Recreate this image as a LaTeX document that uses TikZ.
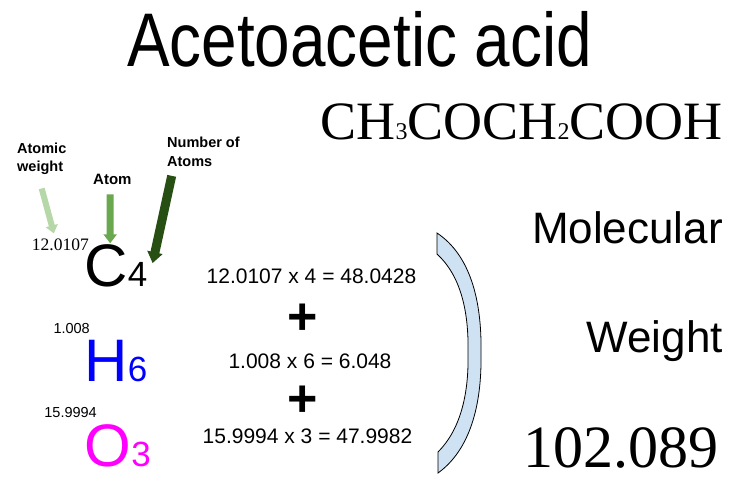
\documentclass[tikz,border=0pt]{standalone}
\usepackage{fontspec}
\usepackage{graphicx}
\setmainfont{Liberation Serif}
\setsansfont{Liberation Sans}
\usetikzlibrary{positioning,arrows.meta}
\definecolor{lightgrn}{HTML}{B6D7A8}
\definecolor{midgrn}{HTML}{6AA84F}
\definecolor{darkgrn}{HTML}{274E13}
\definecolor{bracketblue}{HTML}{CFE2F3}
\definecolor{hblue}{HTML}{0000FF}
\definecolor{opink}{HTML}{FF00FF}
\newcommand{\sz}[2]{\fontsize{#1}{#2}\selectfont}
\newcommand{\subdig}[1]{{\fontsize{24}{24}\selectfont #1}}

\begin{document}
\begin{tikzpicture}[x=1pt, y=-1pt]
    \tikzset{
      txt/.style={inner sep=0pt, font=\sffamily},
      lbl/.style={inner sep=0pt, align=left, font=\sffamily\bfseries\sz{14.5}{18.5}},
      fatarrow/.style n args={3}{line width=#1, -{Triangle[width=#2, length=#3]}}
    }
    \useasboundingbox (0,0) rectangle (748,496);
    % headings
    \node (title) [txt, font=\sffamily\sz{76}{76}, anchor=base west] at (127,66.7) {\scalebox{0.84}[1]{Acetoacetic acid}};
    \node (formula) [txt, font=\rmfamily\sz{54}{54}, anchor=base west] at (320.5,139) {CH\subdig{3}COCH\subdig{2}COOH};
    \node (mol) [txt, font=\sffamily\sz{44}{44}, anchor=base east] at (723,243) {Molecular};
    \node (wgt) [txt, font=\sffamily\sz{44}{44}, anchor=base east] at (723,352) {Weight};
    \node (mw) [txt, font=\rmfamily\sz{60}{60}, anchor=base east] at (719,467) {102.089};
    % labels
    \node (lblaw) [lbl, anchor=north west] at (17,142.5) {Atomic\\weight};
    \node (lblatom) [lbl, font=\sffamily\bfseries\sz{15}{18}, anchor=base west] at (93,184) {Atom};
    \node (lblnum) [lbl, anchor=north west] at (167,137) {Number of\\Atoms};
    % elements
    \foreach[count=\i] \sym\n\col\yb\wt\wx\wy\wfont\wsize in {C/4/black/286/12.0107/89/250/\rmfamily/17.5, H/6/hblue/381/1.008/90/333/\sffamily/14.5, O/3/opink/466/15.9994/97/417/\sffamily/14.5} {
      \node (sym\i) [txt, text=\col, font=\sffamily\sz{60}{60}, anchor=base west] at (84,\yb) {\sym};
      \node (sub\i) [txt, text=\col, font=\sffamily\sz{35}{35}, anchor=base west] at (sym\i.base east) {\n};
      \node (wt\i) [txt, font=\wfont\sz{\wsize}{\wsize}, anchor=base east] at (\wx,\wy) {\wt};
    }
    % sums
    \foreach[count=\i] \eq\ex\ey in {12.0107 x 4 = 48.0428/311.5/283, 1.008 x 6 = 6.048/310/368, 15.9994 x 3 = 47.9982/307.5/443} {
      \node (eq\i) [txt, font=\sffamily\sz{21}{21}, anchor=base] at (\ex,\ey) {\eq};
    }
    \foreach \j\py in {1/334, 2/416} {
      \node (plus\j) [txt, font=\sffamily\bfseries\sz{52}{52}, anchor=base] at (303,\py) {+};
    }
    % bracket
    \draw[fill=bracketblue, line width=0.8pt] (437,233) .. controls (470,255) and (482,300) .. (481,353)
      .. controls (482,405) and (470,450) .. (438,473) -- (438,452)
      .. controls (460,430) and (469,395) .. (468,353)
      .. controls (469,310) and (460,275) .. (437,254) -- cycle;
    % arrows
    \draw[fatarrow={6pt}{12pt}{8pt}, lightgrn] ([xshift=24.7pt,yshift=-13.5pt]lblaw.south west) -- ([xshift=-6.5pt,yshift=4.8pt]wt1.north);
    \draw[fatarrow={7pt}{13pt}{9pt}, midgrn] ([xshift=-2.2pt,yshift=-10pt]lblatom.south) -- ([xshift=4.3pt,yshift=0.6pt]sym1.north);
    \draw[fatarrow={9pt}{15pt}{11pt}, darkgrn] ([xshift=4.7pt,yshift=-9.3pt]lblnum.south west) -- ([xshift=5pt,yshift=-1.4pt]sub1.north east);
  \end{tikzpicture}
\end{document}
